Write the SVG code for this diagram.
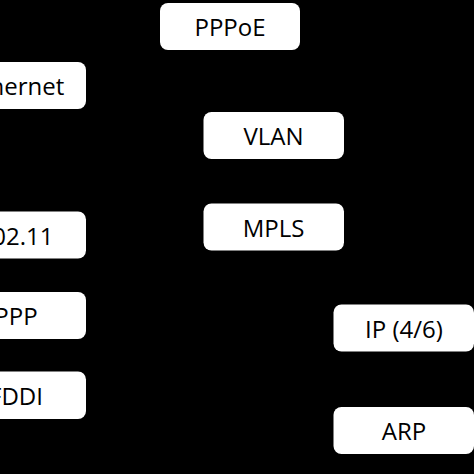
<svg xmlns="http://www.w3.org/2000/svg" width="474" height="474" viewBox="0 0 474 474">
<style>
.box{fill:#fff;stroke:none}
.lbl{font-family:"Open Sans","Liberation Sans",sans-serif;font-size:24px;fill:#000;text-anchor:middle}
</style>
<rect x="0" y="0" width="474" height="474" fill="#000"/>
<g id="connectors"></g>
<g id="pppoe"><rect class="box" x="160" y="3" width="140" height="47" rx="8"/><text class="lbl" x="230" y="36">PPPoE</text></g>
<g id="ethernet"><rect class="box" x="-54" y="62" width="140" height="47" rx="8"/><text class="lbl" x="16" y="95">Ethernet</text></g>
<g id="vlan"><rect class="box" x="203.5" y="112" width="140.5" height="47" rx="8"/><text class="lbl" x="273.5" y="145">VLAN</text></g>
<g id="mpls"><rect class="box" x="203.5" y="203.5" width="140.5" height="47" rx="8"/><text class="lbl" x="273.5" y="236.5">MPLS</text></g>
<g id="ieee80211"><rect class="box" x="-54" y="211.5" width="140" height="47" rx="8"/><text class="lbl" x="16" y="244.5">802.11</text></g>
<g id="ppp"><rect class="box" x="-54" y="292" width="140" height="47" rx="8"/><text class="lbl" x="16" y="325">PPP</text></g>
<g id="fddi"><rect class="box" x="-54" y="371.5" width="140" height="47.5" rx="8"/><text class="lbl" x="16" y="404.5">FDDI</text></g>
<g id="ip"><rect class="box" x="333.5" y="304.5" width="140.5" height="47" rx="8"/><text class="lbl" x="404" y="337.5">IP (4/6)</text></g>
<g id="arp"><rect class="box" x="333.5" y="407" width="140.5" height="47" rx="8"/><text class="lbl" x="404" y="440">ARP</text></g>
</svg>
